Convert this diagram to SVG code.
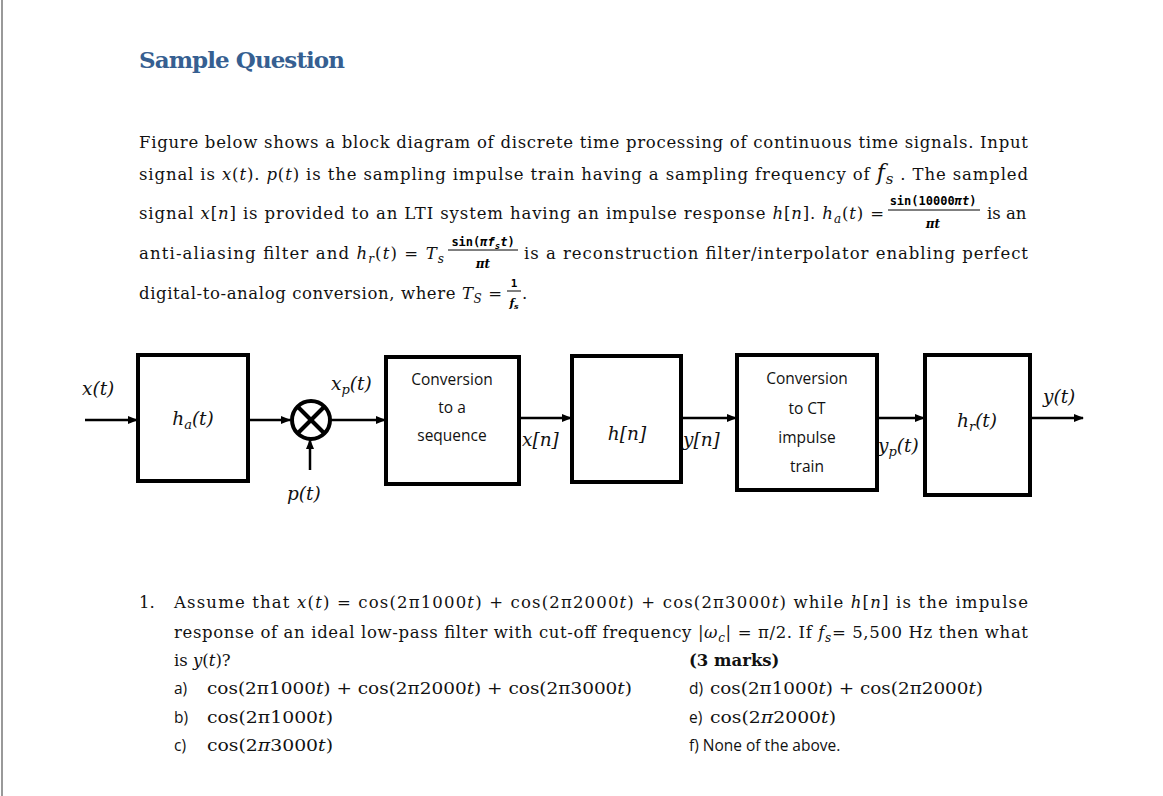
<svg xmlns="http://www.w3.org/2000/svg" width="1163" height="796" viewBox="0 0 1163 796">
<defs>
<marker id="ah" markerWidth="10" markerHeight="8" refX="9" refY="4" orient="auto" markerUnits="userSpaceOnUse"><path d="M0,0 L10,4 L0,8 Z" fill="#000"/></marker>
<style>
.t{font-family:"DejaVu Serif",serif;font-size:16.5px;fill:#111}
.m{font-family:"DejaVu Serif",serif;font-style:italic;font-size:18.5px;fill:#111}
.s{font-family:"Open Sans","Liberation Sans",sans-serif;font-size:15.5px;fill:#111}
.b{fill:#fff;stroke:#000;stroke-width:4}
.c{stroke:#000;stroke-width:2.5;fill:none}
</style>
</defs>
<rect width="1163" height="796" fill="#fff"/>
<line x1="2" y1="0" x2="2" y2="796" stroke="#999" stroke-width="2"/>
<text x="139" y="68" textLength="206" style="font-family:'DejaVu Serif',serif;font-size:23px;font-weight:bold;fill:#365f91">Sample Question</text>

<text class="t" x="139" y="148" textLength="889" lengthAdjust="spacing">Figure below shows a block diagram of discrete time processing of continuous time signals. Input</text>
<text class="t" x="139" y="180" textLength="889" lengthAdjust="spacing">signal is <tspan font-style="italic">x</tspan>(<tspan font-style="italic">t</tspan>). <tspan font-style="italic">p</tspan>(<tspan font-style="italic">t</tspan>) is the sampling impulse train having a sampling frequency of <tspan font-style="italic" font-size="22">f<tspan font-size="15" dy="4">s</tspan></tspan><tspan dy="-4"> . The sampled</tspan></text>
<text class="t" x="139" y="219" textLength="745" lengthAdjust="spacing">signal <tspan font-style="italic">x</tspan>[<tspan font-style="italic">n</tspan>] is provided to an LTI system having an impulse response <tspan font-style="italic">h</tspan>[<tspan font-style="italic">n</tspan>]. <tspan font-style="italic">h<tspan font-size="12" dy="4">a</tspan></tspan><tspan dy="-4">(</tspan><tspan font-style="italic">t</tspan>) =</text>
<text x="933" y="205" text-anchor="middle" style="font-family:'DejaVu Sans Mono',monospace;font-size:12px;font-weight:bold">sin(10000<tspan font-style="italic">πt</tspan>)</text>
<line x1="888" y1="210" x2="980" y2="210" stroke="#000" stroke-width="1"/>
<text x="933" y="228" text-anchor="middle" style="font-family:'DejaVu Serif',serif;font-size:12px;font-weight:bold;font-style:italic">πt</text>
<text class="t" x="987" y="219">is an</text>
<text class="t" x="139" y="259" textLength="305" lengthAdjust="spacing">anti-aliasing filter and <tspan font-style="italic">h<tspan font-size="12" dy="4">r</tspan></tspan><tspan dy="-4">(</tspan><tspan font-style="italic">t</tspan>) = <tspan font-style="italic">T<tspan font-size="12" dy="4">s</tspan></tspan></text>
<text x="483" y="246" text-anchor="middle" style="font-family:'DejaVu Sans Mono',monospace;font-size:12px;font-weight:bold">sin(<tspan font-style="italic">πf<tspan font-size="9" dy="3">s</tspan><tspan dy="-3">t</tspan></tspan>)</text>
<line x1="448" y1="250" x2="518" y2="250" stroke="#000" stroke-width="1"/>
<text x="483" y="268" text-anchor="middle" style="font-family:'DejaVu Serif',serif;font-size:12px;font-weight:bold;font-style:italic">πt</text>
<text class="t" x="524" y="259" textLength="504" lengthAdjust="spacing">is a reconstruction filter/interpolator enabling perfect</text>
<text class="t" x="139" y="299" textLength="363" lengthAdjust="spacing">digital-to-analog conversion, where <tspan font-style="italic">T<tspan font-size="12" dy="4">S</tspan></tspan><tspan dy="-4"> =</tspan></text>
<text x="514" y="287" text-anchor="middle" style="font-family:'DejaVu Sans Mono',monospace;font-size:11px;font-weight:bold">1</text>
<line x1="507" y1="291" x2="521" y2="291" stroke="#000" stroke-width="1"/>
<text x="514" y="307" text-anchor="middle" style="font-family:'DejaVu Serif',serif;font-size:11px;font-weight:bold;font-style:italic">f<tspan font-size="8" dy="2">s</tspan></text>
<text class="t" x="522" y="299">.</text>

<g id="connectors">
<line class="c" x1="85" y1="420" x2="137" y2="420" marker-end="url(#ah)"/>
<line class="c" x1="248" y1="420" x2="290" y2="420" marker-end="url(#ah)"/>
<line class="c" x1="310" y1="470" x2="310" y2="440" marker-end="url(#ah)"/>
<line class="c" x1="331" y1="420" x2="385" y2="420" marker-end="url(#ah)"/>
<line class="c" x1="519" y1="418" x2="571" y2="418" marker-end="url(#ah)"/>
<line class="c" x1="681" y1="418" x2="736" y2="418" marker-end="url(#ah)"/>
<line class="c" x1="877" y1="418" x2="924" y2="418" marker-end="url(#ah)"/>
<line class="c" x1="1030" y1="418" x2="1083" y2="418" marker-end="url(#ah)"/>
</g>
<text class="m" x="82" y="395">x(t)</text>
<text class="m" x="287" y="500">p(t)</text>
<text class="m" x="331" y="390">x<tspan font-size="13" dy="4">p</tspan><tspan dy="-4">(t)</tspan></text>
<text class="m" x="522" y="446">x[n]</text>
<text class="m" x="683" y="446">y[n]</text>
<text class="m" x="878" y="452">y<tspan font-size="13" dy="4">p</tspan><tspan dy="-4">(t)</tspan></text>
<text class="m" x="1043" y="403">y(t)</text>

<g id="ha"><rect class="b" x="138" y="355" width="110" height="126"/><text class="m" x="193" y="425" text-anchor="middle">h<tspan font-size="13" dy="4">a</tspan><tspan dy="-4">(t)</tspan></text></g>
<g id="mult"><circle cx="311" cy="420" r="19" fill="#fff" stroke="#000" stroke-width="4"/><line x1="298" y1="407" x2="324" y2="433" stroke="#000" stroke-width="4"/><line x1="324" y1="407" x2="298" y2="433" stroke="#000" stroke-width="4"/></g>
<g id="conv1"><rect class="b" x="386" y="357" width="133" height="127"/><text class="s" x="452" y="385" text-anchor="middle">Conversion</text><text class="s" x="452" y="413" text-anchor="middle">to a</text><text class="s" x="452" y="441" text-anchor="middle">sequence</text></g>
<g id="hn"><rect class="b" x="572" y="356" width="109" height="126"/><text class="m" x="627" y="440" text-anchor="middle">h[n]</text></g>
<g id="conv2"><rect class="b" x="737" y="355" width="140" height="135"/><text class="s" x="807" y="384" text-anchor="middle">Conversion</text><text class="s" x="807" y="414" text-anchor="middle">to CT</text><text class="s" x="807" y="443" text-anchor="middle">impulse</text><text class="s" x="807" y="472" text-anchor="middle">train</text></g>
<g id="hr"><rect class="b" x="925" y="355" width="105" height="140"/><text class="m" x="977" y="427" text-anchor="middle">h<tspan font-size="13" dy="4">r</tspan><tspan dy="-4">(t)</tspan></text></g>

<text class="t" x="139" y="608">1.</text>
<text class="t" x="174" y="608" textLength="854" lengthAdjust="spacing">Assume that <tspan font-style="italic">x</tspan>(<tspan font-style="italic">t</tspan>) = cos(2π1000<tspan font-style="italic">t</tspan>) + cos(2π2000<tspan font-style="italic">t</tspan>) + cos(2π3000<tspan font-style="italic">t</tspan>) while <tspan font-style="italic">h</tspan>[<tspan font-style="italic">n</tspan>] is the impulse</text>
<text class="t" x="174" y="638" textLength="854" lengthAdjust="spacing">response of an ideal low-pass filter with cut-off frequency |<tspan font-style="italic">ω<tspan font-size="12" dy="4">c</tspan></tspan><tspan dy="-4">| = π/2. If </tspan><tspan font-style="italic">f<tspan font-size="12" dy="4">s</tspan></tspan><tspan dy="-4">= 5,500 Hz then what</tspan></text>
<text class="t" x="174" y="666">is <tspan font-style="italic">y</tspan>(<tspan font-style="italic">t</tspan>)?</text>
<text class="t" x="689" y="666" font-weight="bold">(3 marks)</text>
<text class="s" x="174" y="694">a)</text><text class="t" x="207" y="694" textLength="425" lengthAdjust="spacingAndGlyphs">cos(2π1000<tspan font-style="italic">t</tspan>) + cos(2π2000<tspan font-style="italic">t</tspan>) + cos(2π3000<tspan font-style="italic">t</tspan>)</text>
<text class="s" x="174" y="723">b)</text><text class="t" x="207" y="723" textLength="126" lengthAdjust="spacingAndGlyphs">cos(2π1000<tspan font-style="italic">t</tspan>)</text>
<text class="s" x="174" y="751">c)</text><text class="t" x="207" y="751" textLength="126" lengthAdjust="spacingAndGlyphs">cos(2<tspan font-style="italic">π</tspan>3000<tspan font-style="italic">t</tspan>)</text>
<text class="s" x="689" y="694">d)</text><text class="t" x="710" y="694" textLength="273" lengthAdjust="spacingAndGlyphs">cos(2π1000<tspan font-style="italic">t</tspan>) + cos(2π2000<tspan font-style="italic">t</tspan>)</text>
<text class="s" x="689" y="723">e)</text><text class="t" x="710" y="723" textLength="126" lengthAdjust="spacingAndGlyphs">cos(2<tspan font-style="italic">π</tspan>2000<tspan font-style="italic">t</tspan>)</text>
<text class="s" x="689" y="751">f) None of the above.</text>
</svg>
